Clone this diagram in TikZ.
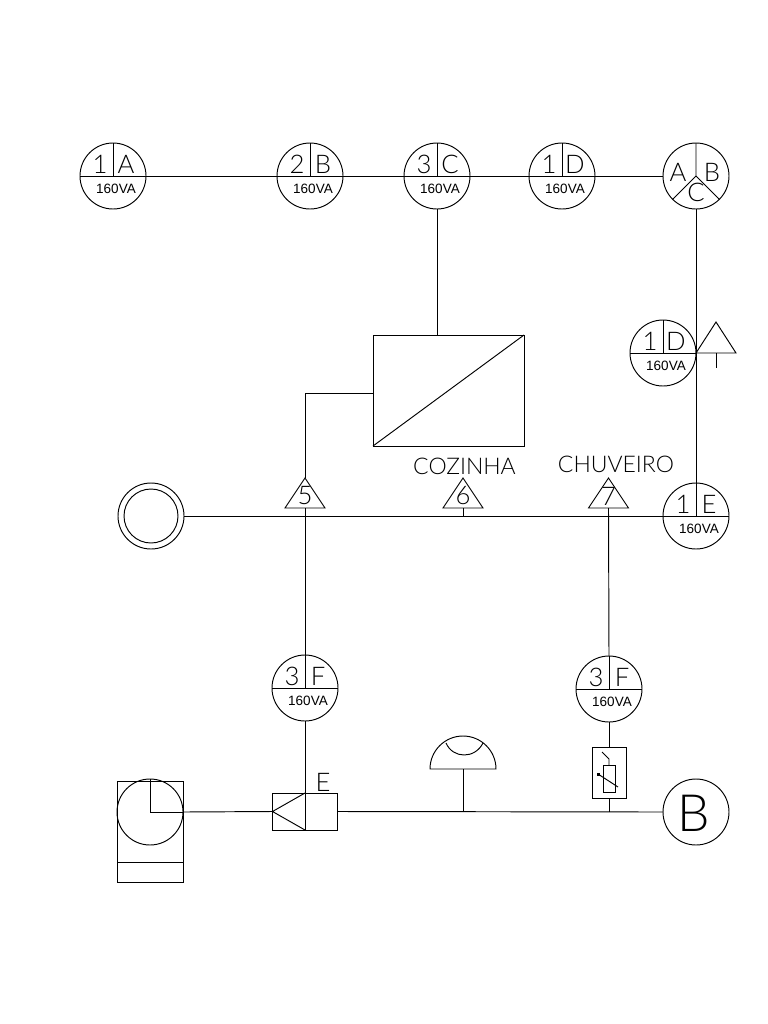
\documentclass[tikz,border=0pt]{standalone}
\usepackage{fontspec}
\setmainfont{Lato Light}
\newfontfamily\vafont{Liberation Sans}
\def\pxu{0.026cm}
\tikzset{
    wire/.style = {line width = 0.7pt, black},
    lamp/.style = {wire, draw, circle, minimum size = 66*\pxu, inner sep = 0pt, outer sep = 0pt},
    bigtxt/.style = {inner sep = 0pt, font = \fontsize{19}{19}\selectfont},
    smalltxt/.style = {inner sep = 0pt, font = \vafont\fontsize{10}{10}\selectfont},
    roomtxt/.style = {inner sep = 0pt, font = \fontsize{17}{17}\selectfont},
}
\begin{document}
\begin{tikzpicture}[x = \pxu, y = -\pxu]
        \useasboundingbox (0,0) rectangle (768,1024);

        % lamps with number, letter and power
        \foreach \name/\x/\y/\num/\ltr in {lA/113/176/1/A, lB/310/176/2/B, lC/437/176/3/C, lD/562/176/1/D,
                lDr/663/353/1/D, lE/696/516/1/E, lFa/305/688/3/F, lFb/609/689/3/F}{
            \node[lamp] (\name) at (\x,\y) {};
            \draw[wire] (\name.west) -- (\name.east);
            \draw[wire] (\name.center) -- (\name.north);
            \node[bigtxt] (\name num) at (\x-13,\y-12) {\num};
            \node[bigtxt] (\name let) at (\x+13,\y-12) {\ltr};
            \node[smalltxt] (\name va) at (\x+3,\y+13) {160VA};
        }

        % junction box
        \node[lamp] (abc) at (696,176) {};
        \draw[wire] (abc.north) -- (abc.center) -- (abc.-135);
        \draw[wire] (abc.center) -- (abc.-45);
        \node[bigtxt] (abcA) at (678,172) {A};
        \node[bigtxt] (abcB) at (712,172) {B};
        \node[bigtxt] (abcC) at (696,192) {C};

        % board
        \node[wire, draw, minimum width = 151*\pxu, minimum height = 111*\pxu, inner sep = 0pt, outer sep = 0pt] (board) at (448.5,390.5) {};
        \draw[wire] (board.south west) -- (board.north east);
        \coordinate (boardin) at (373,393);

        % triangles
        \foreach \name/\x/\num in {tr5/305/5, tr6/463/6, tr7/608.5/7}{
            \draw[wire] (\x,478) -- (\x-20,508) -- (\x+20,508) -- cycle;
            \coordinate (\name) at (\x,508);
            \coordinate (\name top) at (\x,478);
            \node[bigtxt] (\name num) at (\x,496) {\num};
        }
        \draw[wire] (716,322) -- (696,353) -- (736,353) -- cycle;
        \coordinate (trD) at (716,353);
        \coordinate (trDend) at (716,368);
        \draw[wire] (trD) -- (trDend);

        \node[roomtxt] (cozinha) at (464.5,466.5) {COZINHA};
        \node[roomtxt] (chuveiro) at (616,464.5) {CHUVEIRO};

        % meter
        \node[lamp] (meter) at (151,516) {};
        \node[wire, draw, circle, minimum size = 54*\pxu, inner sep = 0pt] (meterin) at (151,516) {};

        % clock
        \node[wire, draw, minimum width = 66*\pxu, minimum height = 101*\pxu, inner sep = 0pt, outer sep = 0pt] (clockbox) at (150,831.5) {};
        \draw[wire] (117,862) -- (183,862);
        \node[lamp] (clock) at (150,812) {};
        \draw[wire] (clock.north) -- (clock.center) -- (clock.east);

        % valve
        \node[wire, draw, minimum width = 65*\pxu, minimum height = 37*\pxu, inner sep = 0pt, outer sep = 0pt] (valve) at (305,811.5) {};
        \draw[wire] (valve.north) -- (valve.south);
        \draw[wire] (valve.north) -- (valve.west) -- (valve.south);
        \node[bigtxt] (valvetxt) at (323,782) {E};

        % bell
        \draw[wire] (430,769) arc (180:360:33) -- cycle;
        \draw[wire] (446,743) .. controls (453,759) and (475,759) .. (483,743);
        \coordinate (bell) at (463,769);

        % thermostat
        \node[wire, draw, minimum width = 34*\pxu, minimum height = 51*\pxu, inner sep = 0pt, outer sep = 0pt] (thermo) at (609,772.5) {};
        \draw[wire] (603,765) rectangle (615,792);
        \draw[wire] (602,752) -- (609,759) -- (609,765);
        \draw[wire] (598,774) -- (618,787);
        \fill (597,773) rectangle (600,776);

        % output
        \node[lamp] (out) at (696,812) {};
        \node[inner sep = 0pt, font = \fontsize{38}{38}\selectfont] (outtxt) at (694,813) {B};

        % connections
        \draw[wire] (lA.east) -- (lB.west);
        \draw[wire] (lB.east) -- (lC.west);
        \draw[wire] (lC.east) -- (lD.west);
        \draw[wire] (lD.east) -- (abc.west);
        \draw[wire] (abc.south) -- (lE.center);
        \draw[wire] (lC.south) -- (lC.south |- board.north);
        \draw[wire] (boardin) -| (tr5top);
        \draw[wire] (meter.east) -- (lE.west);
        \draw[wire] (tr5) -- (lFa.north);
        \draw[wire] (tr6) -- (tr6 |- meter.east);
        \draw[wire] (tr7) -- (lFb.north);
        \draw[wire] (lFa.south) -- (valve.center);
        \draw[wire] (lFb.south) -- (thermo.north);
        \draw[wire] (thermo.south) -- (thermo.south |- out.west);
        \draw[wire] (clock.east) -- (valve.west);
        \draw[wire] (valve.east) -- (out.west);
        \draw[wire] (bell) -- (bell |- out.west);
    \end{tikzpicture}
\end{document}
